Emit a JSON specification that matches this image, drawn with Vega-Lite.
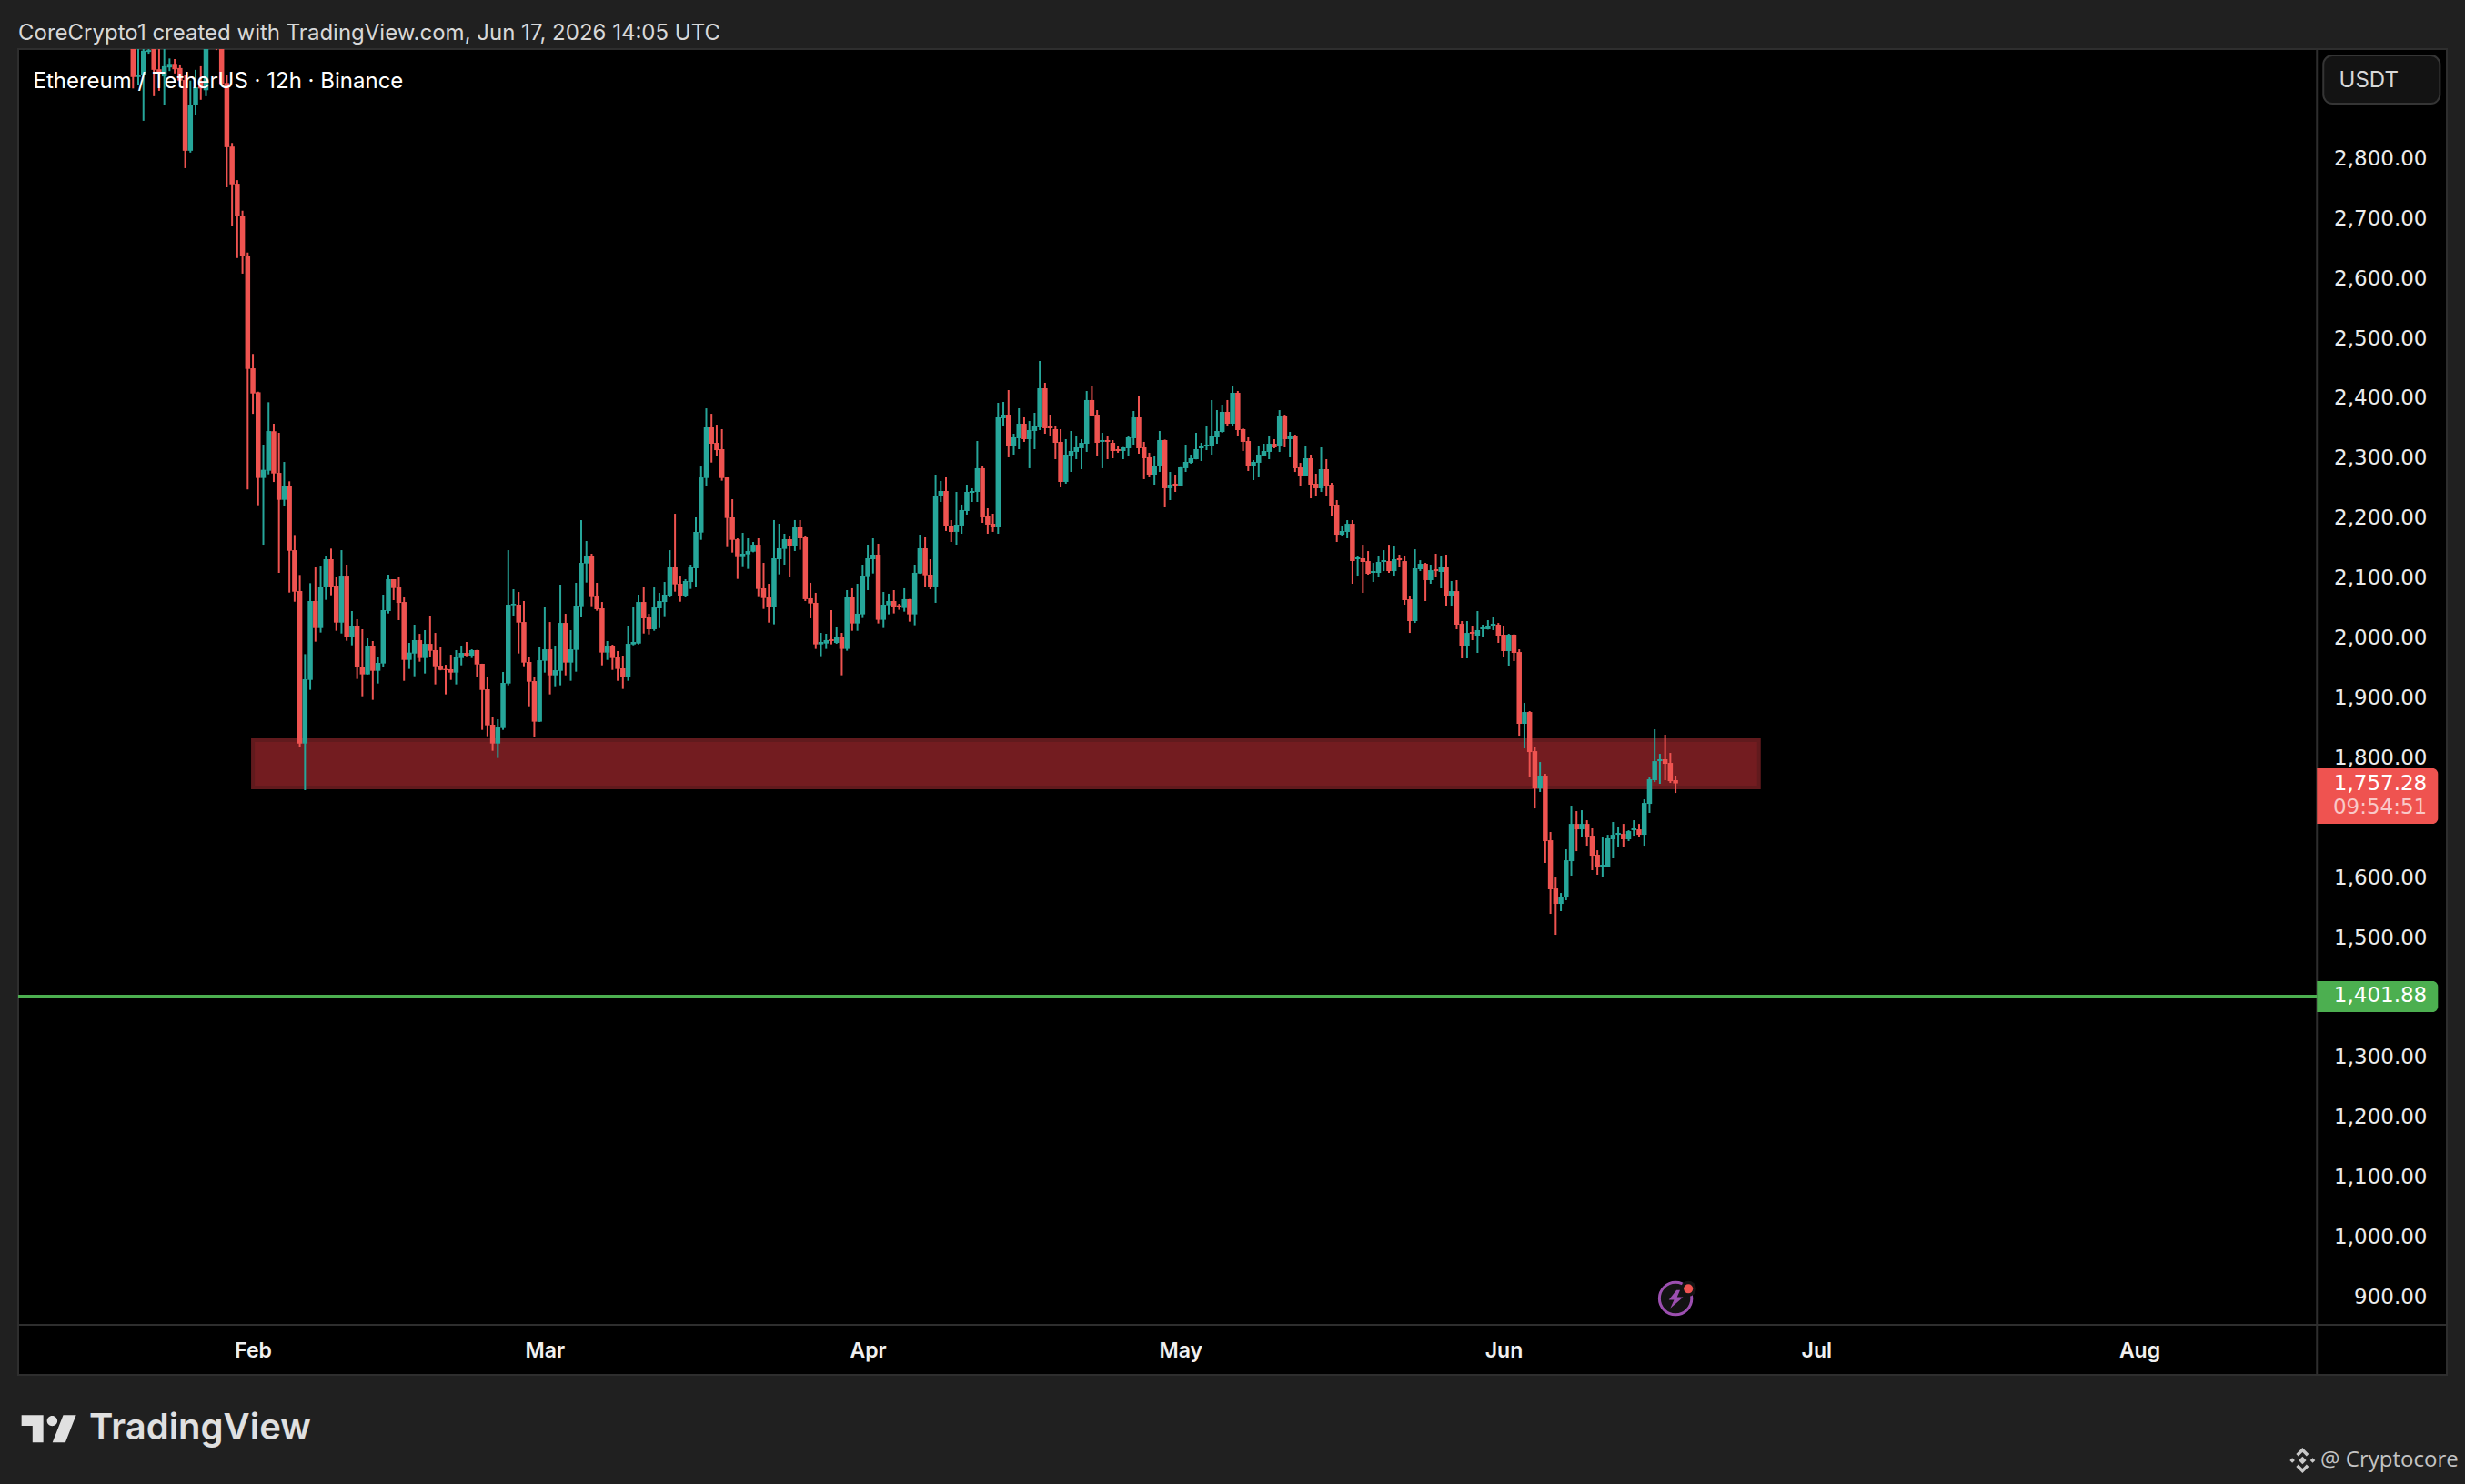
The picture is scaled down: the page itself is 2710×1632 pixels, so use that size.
{"$schema":"https://vega.github.io/schema/vega-lite/v6.json","background":"#202020","autosize":{"type":"none"},"padding":{"left":20,"top":54,"right":20,"bottom":120},"width":2670,"height":1458,"view":{"fill":"#000000","stroke":"#2e2e2e","strokeWidth":2},
"title":{"text":"CoreCrypto1 created with TradingView.com, Jun 17, 2026 14:05 UTC","anchor":"start","frame":"group","offset":4,"font":"Inter","fontSize":24,"fontWeight":400,"color":"#d8d8d8"},
"encoding":{"x":{"field":"t","type":"temporal","title":null,"scale":{"padding":0,"domain":[{"year":2026,"month":"jan","date":9,"hours":11,"minutes":30},{"year":2026,"month":"aug","date":30,"hours":12}]},"axis":{"tickCount":"month","format":"%b","orient":"bottom","offset":-27,"labelBaseline":"middle","labelPadding":0,"ticks":false,"domain":false,"grid":false,"labelFont":"Inter","labelFontSize":23,"labelFontWeight":600,"labelColor":"#f0f0f0","labelFlush":false,"labelOverlap":false}},
"y":{"field":"p","type":"quantitative","title":null,"scale":{"domain":[770.2,2982.7],"nice":false,"zero":false},"axis":{"orient":"right","offset":-22,"values":[900,1000,1100,1200,1300,1500,1600,1800,1900,2000,2100,2200,2300,2400,2500,2600,2700,2800],"format":",.2f","labelAlign":"right","labelPadding":0,"ticks":false,"domain":false,"grid":false,"labelFont":"DejaVu Sans","labelFontSize":23,"labelColor":"#ececec","labelOverlap":false,"labelFlush":false}}},
"layer":[
{"data":{"values":[{"t":"2026-08-18T01:00","p":770.2,"p2":2982.7}],"format":{"parse":{"t":"date"}}},"mark":{"type":"rule","color":"#2e2e2e","strokeWidth":2},"encoding":{"y2":{"field":"p2"}}},
{"data":{"values":[{"t":"2026-01-09T11:30","t2":"2026-08-30T12:00","p":853.6}],"format":{"parse":{"t":"date","t2":"date"}}},"mark":{"type":"rule","color":"#2e2e2e","strokeWidth":2},"encoding":{"x2":{"field":"t2"}}},
{"data":{"values":[{"t":"2026-02-01T00:00","t2":"2026-06-25T12:00","p":1829.5,"p2":1750.6}],"format":{"parse":{"t":"date","t2":"date"}}},"mark":{"type":"rect","fill":"#731c20","stroke":"#611a1d","strokeWidth":4},"encoding":{"x2":{"field":"t2"},"y2":{"field":"p2"}}},
{"data":{"values":[{"t":"2026-01-09T11:30","t2":"2026-08-18T01:00","p":1401.88}],"format":{"parse":{"t":"date","t2":"date"}}},"mark":{"type":"rule","color":"#4caf50","strokeWidth":3.5},"encoding":{"x2":{"field":"t2"}}},
{"data":{"name":"candles"},"mark":{"type":"rule","clip":true,"strokeWidth":2},"encoding":{"y":{"field":"l","type":"quantitative","title":null},"y2":{"field":"h"},"color":{"condition":{"test":"datum.c>=datum.o","value":"#26a69a"},"value":"#ef5350"}}},
{"data":{"name":"candles"},"mark":{"type":"bar","clip":true,"size":5.5},"encoding":{"y":{"field":"o","type":"quantitative","title":null},"y2":{"field":"c"},"color":{"condition":{"test":"datum.c>=datum.o","value":"#26a69a"},"value":"#ef5350"}}},
{"data":{"values":[{"t":"2026-08-18T01:00","t2":"2026-08-29T15:40","p":1782.3,"p2":1689.8}],"format":{"parse":{"t":"date","t2":"date"}}},"mark":{"type":"rect","fill":"#ef5350","cornerRadiusTopRight":6,"cornerRadiusBottomRight":6},"encoding":{"x2":{"field":"t2"},"y2":{"field":"p2"}}},
{"data":{"values":[{"t":"2026-08-18T01:00","t2":"2026-08-29T15:40","p":1427.2,"p2":1375.5}],"format":{"parse":{"t":"date","t2":"date"}}},"mark":{"type":"rect","fill":"#4caf50","cornerRadiusTopRight":6,"cornerRadiusBottomRight":6},"encoding":{"x2":{"field":"t2"},"y2":{"field":"p2"}}},
{"data":{"values":[{"t":"2026-08-18T15:40","t2":"2026-08-29T20:00","p":2972,"p2":2891.6}],"format":{"parse":{"t":"date","t2":"date"}}},"mark":{"type":"rect","fill":"#131313","stroke":"#353535","strokeWidth":2,"cornerRadius":10},"encoding":{"x2":{"field":"t2"},"y2":{"field":"p2"}}},
{"data":{"values":[{"t":"2026-08-28T14:24","p":1757,"label":"1,757.28"},{"t":"2026-08-28T14:24","p":1403,"label":"1,401.88"}],"format":{"parse":{"t":"date"}}},"mark":{"type":"text","align":"right","baseline":"middle","font":"DejaVu Sans","fontSize":23,"color":"#ffffff"},"encoding":{"text":{"field":"label"}}},
{"data":{"values":[{"t":"2026-08-28T14:24","p":1716.5,"label":"09:54:51"}],"format":{"parse":{"t":"date"}}},"mark":{"type":"text","align":"right","baseline":"middle","font":"DejaVu Sans","fontSize":23,"color":"#f9c9c8"},"encoding":{"text":{"field":"label"}}},
{"data":{"values":[{"t":"2026-08-20T04:00","p":2929,"label":"USDT"}],"format":{"parse":{"t":"date"}}},"mark":{"type":"text","align":"left","baseline":"middle","font":"Inter","fontSize":24,"color":"#d8d8d8"},"encoding":{"text":{"field":"label"}}},
{"data":{"values":[{"t":"2026-01-10T22:00","p":2928,"label":"Ethereum / TetherUS · 12h · Binance"}],"format":{"parse":{"t":"date"}}},"mark":{"type":"text","align":"left","baseline":"middle","font":"Inter","fontSize":24,"color":"#ffffff"},"encoding":{"text":{"field":"label"}}},
{"data":{"values":[{"t":"2026-06-17T12:00","p":897.6}],"format":{"parse":{"t":"date"}}},"mark":{"type":"point","shape":"circle","size":1257,"filled":false,"fill":"#131313","fillOpacity":1,"stroke":"#9c4fb0","strokeWidth":3,"opacity":1}},
{"data":{"values":[{"t":"2026-06-17T12:00","p":897.6}],"format":{"parse":{"t":"date"}}},"mark":{"type":"point","shape":"M0.07,-0.62 L-0.49,0.09 L-0.11,0.09 L-0.38,0.71 L0.56,-0.11 L0.11,-0.11 L0.33,-0.62 Z","size":900,"filled":true,"color":"#9c4fb0","opacity":1}},
{"data":{"values":[{"t":"2026-06-18T17:30","p":913.8}],"format":{"parse":{"t":"date"}}},"mark":{"type":"point","shape":"circle","size":290,"filled":true,"color":"#131313","opacity":1}},
{"data":{"values":[{"t":"2026-06-18T17:30","p":913.8}],"format":{"parse":{"t":"date"}}},"mark":{"type":"point","shape":"circle","size":100,"filled":true,"color":"#ef5350","opacity":1}},
{"data":{"values":[{"t":"2026-01-12T10:00","p":680.6}],"format":{"parse":{"t":"date"}}},"mark":{"type":"point","shape":"M-1,-0.494 L-0.2,-0.494 L-0.2,0.506 L-0.596,0.506 L-0.596,-0.1 L-1,-0.1 Z M-0.067,-0.281 a0.191,0.191 0 1,0 0.382,0 a0.191,0.191 0 1,0 -0.382,0 Z M0.528,-0.494 L1,-0.494 L0.607,0.506 L0.135,0.506 Z","size":3600,"filled":true,"color":"#e0e0e0","opacity":1}},
{"data":{"values":[{"t":"2026-01-16T07:00","p":680.6,"label":"TradingView"}],"format":{"parse":{"t":"date"}}},"mark":{"type":"text","align":"left","baseline":"middle","font":"Inter","fontSize":40,"fontWeight":600,"color":"#e0e0e0"},"encoding":{"text":{"field":"label"}}},
{"data":{"values":[{"t":"2026-08-16T15:40","p":627.5}],"format":{"parse":{"t":"date"}}},"mark":{"type":"point","shape":"M0,-0.3 L0.3,0 L0,0.3 L-0.3,0 Z M-0.8,-0.2 L-0.6,0 L-0.8,0.2 L-1,0 Z M0.8,-0.2 L1,0 L0.8,0.2 L0.6,0 Z M0,-1 L0.5,-0.5 L0.32,-0.32 L0,-0.64 L-0.32,-0.32 L-0.5,-0.5 Z M0,1 L0.5,0.5 L0.32,0.32 L0,0.64 L-0.32,0.32 L-0.5,0.5 Z","size":784,"filled":true,"color":"#c8c8c8","opacity":1}},
{"data":{"values":[{"t":"2026-08-18T09:00","p":627.5,"label":"@ Cryptocore"}],"format":{"parse":{"t":"date"}}},"mark":{"type":"text","align":"left","baseline":"middle","font":"Open Sans","fontSize":24,"color":"#c4c4c4"},"encoding":{"text":{"field":"label"}}}
],
"datasets":{"candles":[
{"t":"2026-01-20T12:00","o":2995,"h":3010,"l":2917,"c":2936},
{"t":"2026-01-21T00:00","o":2936,"h":3000,"l":2922,"c":2940},
{"t":"2026-01-21T12:00","o":2939,"h":2995,"l":2863,"c":2980},
{"t":"2026-01-22T00:00","o":2978,"h":2990,"l":2975,"c":2981},
{"t":"2026-01-22T12:00","o":2990,"h":3000,"l":2904,"c":2948},
{"t":"2026-01-23T00:00","o":2949,"h":3000,"l":2913,"c":2943},
{"t":"2026-01-23T12:00","o":2937,"h":2990,"l":2890,"c":2954},
{"t":"2026-01-24T00:00","o":2952,"h":2967,"l":2946,"c":2958},
{"t":"2026-01-24T12:00","o":2958,"h":2966,"l":2942,"c":2949},
{"t":"2026-01-25T00:00","o":2951,"h":2957,"l":2928,"c":2930},
{"t":"2026-01-25T12:00","o":2931,"h":2940,"l":2784,"c":2813},
{"t":"2026-01-26T00:00","o":2813,"h":2930,"l":2810,"c":2890},
{"t":"2026-01-26T12:00","o":2889,"h":2948,"l":2873,"c":2919},
{"t":"2026-01-27T00:00","o":2929,"h":2954,"l":2898,"c":2917},
{"t":"2026-01-27T12:00","o":2914,"h":3000,"l":2904,"c":2990},
{"t":"2026-01-28T00:00","o":3010,"h":3040,"l":2990,"c":3000},
{"t":"2026-01-28T12:00","o":3000,"h":3030,"l":2981,"c":2995},
{"t":"2026-01-29T00:00","o":3000,"h":3010,"l":2922,"c":2924.5},
{"t":"2026-01-29T12:00","o":2926,"h":2940,"l":2752,"c":2819},
{"t":"2026-01-30T00:00","o":2820,"h":2826,"l":2687,"c":2757},
{"t":"2026-01-30T12:00","o":2758,"h":2764,"l":2634,"c":2703.5},
{"t":"2026-01-31T00:00","o":2705,"h":2713,"l":2608,"c":2637},
{"t":"2026-01-31T12:00","o":2638,"h":2643,"l":2248,"c":2449},
{"t":"2026-02-01T00:00","o":2450,"h":2474,"l":2374,"c":2408},
{"t":"2026-02-01T12:00","o":2410,"h":2411,"l":2221.4,"c":2267},
{"t":"2026-02-02T00:00","o":2267,"h":2322.6,"l":2155.6,"c":2280.6},
{"t":"2026-02-02T12:00","o":2279,"h":2393.4,"l":2273,"c":2345.3},
{"t":"2026-02-03T00:00","o":2345,"h":2357.5,"l":2260.3,"c":2274.5},
{"t":"2026-02-03T12:00","o":2275.5,"h":2342.3,"l":2108.6,"c":2230.5},
{"t":"2026-02-04T00:00","o":2230.5,"h":2293.7,"l":2219.9,"c":2252.8},
{"t":"2026-02-04T12:00","o":2252.8,"h":2261.4,"l":2075.7,"c":2145.5},
{"t":"2026-02-05T00:00","o":2146.5,"h":2171.8,"l":2060.5,"c":2077.2},
{"t":"2026-02-05T12:00","o":2078.2,"h":2105.1,"l":1817.8,"c":1823.8},
{"t":"2026-02-06T00:00","o":1823.8,"h":1973,"l":1746,"c":1931.1},
{"t":"2026-02-06T12:00","o":1930,"h":2091.4,"l":1913.4,"c":2061.6},
{"t":"2026-02-07T00:00","o":2061.6,"h":2117.7,"l":1993.8,"c":2016.5},
{"t":"2026-02-07T12:00","o":2016.5,"h":2120.7,"l":2009,"c":2085.8},
{"t":"2026-02-08T00:00","o":2084.8,"h":2135.9,"l":2063.6,"c":2131.4},
{"t":"2026-02-08T12:00","o":2131.4,"h":2149.1,"l":2071.2,"c":2085.8},
{"t":"2026-02-09T00:00","o":2087.4,"h":2101,"l":2012,"c":2025.6},
{"t":"2026-02-09T12:00","o":2025.6,"h":2146.5,"l":2007.4,"c":2104},
{"t":"2026-02-10T00:00","o":2104,"h":2122.3,"l":1995.3,"c":2001.4},
{"t":"2026-02-10T12:00","o":2001.4,"h":2044.9,"l":1987.7,"c":2020.6},
{"t":"2026-02-11T00:00","o":2020.6,"h":2031.2,"l":1931.6,"c":1951.3},
{"t":"2026-02-11T12:00","o":1952.3,"h":2014.5,"l":1902.7,"c":1939.2},
{"t":"2026-02-12T00:00","o":1939.2,"h":1999.4,"l":1939,"c":1987.2},
{"t":"2026-02-12T12:00","o":1987.2,"h":1994.8,"l":1896.7,"c":1945.2},
{"t":"2026-02-13T00:00","o":1945.2,"h":1967.5,"l":1924,"c":1958.4},
{"t":"2026-02-13T12:00","o":1957.4,"h":2072.2,"l":1951.3,"c":2046.4},
{"t":"2026-02-14T00:00","o":2044.9,"h":2105.6,"l":2040.8,"c":2098},
{"t":"2026-02-14T12:00","o":2098,"h":2098,"l":2063.1,"c":2083.3},
{"t":"2026-02-15T00:00","o":2084.3,"h":2101,"l":2029.7,"c":2058.5},
{"t":"2026-02-15T12:00","o":2060,"h":2067.6,"l":1928.5,"c":1963.4},
{"t":"2026-02-16T00:00","o":1963.4,"h":1991.8,"l":1948.3,"c":1975.6},
{"t":"2026-02-16T12:00","o":1974,"h":2022.1,"l":1936.1,"c":1996.3},
{"t":"2026-02-17T00:00","o":1996.3,"h":2006.9,"l":1960.4,"c":1966.5},
{"t":"2026-02-17T12:00","o":1966.5,"h":2013,"l":1940.7,"c":1990.2},
{"t":"2026-02-18T00:00","o":1990.2,"h":2037.3,"l":1968,"c":1978.6},
{"t":"2026-02-18T12:00","o":1979.6,"h":2008.4,"l":1922.5,"c":1952.8},
{"t":"2026-02-19T00:00","o":1953.8,"h":1985.7,"l":1946,"c":1946.7},
{"t":"2026-02-19T12:00","o":1948.3,"h":1955.3,"l":1905.8,"c":1946.3},
{"t":"2026-02-20T00:00","o":1947.8,"h":1972,"l":1930,"c":1942.2},
{"t":"2026-02-20T12:00","o":1942.2,"h":1979.6,"l":1922.5,"c":1967.5},
{"t":"2026-02-21T00:00","o":1966.5,"h":1987.2,"l":1954.3,"c":1975.1},
{"t":"2026-02-21T12:00","o":1975.1,"h":1993.3,"l":1969.5,"c":1970.5},
{"t":"2026-02-22T00:00","o":1970.5,"h":1981.1,"l":1966.5,"c":1979.6},
{"t":"2026-02-22T12:00","o":1979.6,"h":1980,"l":1934.6,"c":1955.8},
{"t":"2026-02-23T00:00","o":1956.8,"h":1957,"l":1846.6,"c":1913.4},
{"t":"2026-02-23T12:00","o":1914.4,"h":1934.1,"l":1836,"c":1854.2},
{"t":"2026-02-24T00:00","o":1855.2,"h":1868.9,"l":1811.7,"c":1823.8},
{"t":"2026-02-24T12:00","o":1823.8,"h":1864.3,"l":1799.6,"c":1850.6},
{"t":"2026-02-25T00:00","o":1849.6,"h":1943.2,"l":1846.6,"c":1925},
{"t":"2026-02-25T12:00","o":1924,"h":2146.5,"l":1921,"c":2055.5},
{"t":"2026-02-26T00:00","o":2054.5,"h":2081.3,"l":2037.3,"c":2057},
{"t":"2026-02-26T12:00","o":2055.5,"h":2076.7,"l":1974.1,"c":2025.6},
{"t":"2026-02-27T00:00","o":2026.6,"h":2061.6,"l":1952.8,"c":1958.9},
{"t":"2026-02-27T12:00","o":1959.9,"h":1967.5,"l":1886,"c":1927},
{"t":"2026-02-28T00:00","o":1928,"h":1935.6,"l":1834.5,"c":1860.3},
{"t":"2026-02-28T12:00","o":1860.3,"h":1984.2,"l":1860,"c":1962.9},
{"t":"2026-03-01T00:00","o":1961.9,"h":2052.5,"l":1942.2,"c":1981.1},
{"t":"2026-03-01T12:00","o":1981.1,"h":2026.6,"l":1905.8,"c":1937.6},
{"t":"2026-03-02T00:00","o":1937.6,"h":1987.2,"l":1919.4,"c":1946.2},
{"t":"2026-03-02T12:00","o":1945.2,"h":2088.9,"l":1921,"c":2025.1},
{"t":"2026-03-03T00:00","o":2025.1,"h":2040.3,"l":1937.6,"c":1958.9},
{"t":"2026-03-03T12:00","o":1958.9,"h":2013,"l":1928.5,"c":1981.1},
{"t":"2026-03-04T00:00","o":1980.1,"h":2091.9,"l":1943.7,"c":2054},
{"t":"2026-03-04T12:00","o":2053,"h":2196.6,"l":2034.8,"c":2125.3},
{"t":"2026-03-05T00:00","o":2124.3,"h":2161.7,"l":2092.4,"c":2135.9},
{"t":"2026-03-05T12:00","o":2135.9,"h":2140.5,"l":2053,"c":2069.7},
{"t":"2026-03-06T00:00","o":2070.7,"h":2091.9,"l":2045.4,"c":2047.9},
{"t":"2026-03-06T12:00","o":2049.4,"h":2060,"l":1954.3,"c":1975.6},
{"t":"2026-03-07T00:00","o":1975.6,"h":1994.8,"l":1963.4,"c":1987.2},
{"t":"2026-03-07T12:00","o":1987.2,"h":1988.7,"l":1946.7,"c":1966.5},
{"t":"2026-03-08T00:00","o":1967.5,"h":1978.1,"l":1928.5,"c":1948.3},
{"t":"2026-03-08T12:00","o":1949.3,"h":1970.5,"l":1914.9,"c":1934.6},
{"t":"2026-03-09T00:00","o":1934.6,"h":2020.6,"l":1928.5,"c":1990.2},
{"t":"2026-03-09T12:00","o":1989.2,"h":2052.5,"l":1987.7,"c":1993.3},
{"t":"2026-03-10T00:00","o":1990.7,"h":2072.2,"l":1989.2,"c":2060},
{"t":"2026-03-10T12:00","o":2060,"h":2085.8,"l":2007.4,"c":2032.7},
{"t":"2026-03-11T00:00","o":2034.2,"h":2040.3,"l":2005.9,"c":2014.5},
{"t":"2026-03-11T12:00","o":2014.5,"h":2084.3,"l":2012,"c":2050.9},
{"t":"2026-03-12T00:00","o":2049.4,"h":2075.2,"l":2016.5,"c":2061.6},
{"t":"2026-03-12T12:00","o":2060,"h":2093.4,"l":2036.3,"c":2072.2},
{"t":"2026-03-13T00:00","o":2070.7,"h":2146.5,"l":2069.2,"c":2119.2},
{"t":"2026-03-13T12:00","o":2119.2,"h":2207.2,"l":2077.2,"c":2089.4},
{"t":"2026-03-14T00:00","o":2090.4,"h":2104,"l":2060.5,"c":2070.7},
{"t":"2026-03-14T12:00","o":2070.7,"h":2098,"l":2068.2,"c":2095},
{"t":"2026-03-15T00:00","o":2093.4,"h":2122.3,"l":2081.8,"c":2117.7},
{"t":"2026-03-15T12:00","o":2116.2,"h":2201.2,"l":2084.8,"c":2176.9},
{"t":"2026-03-16T00:00","o":2175.9,"h":2286.1,"l":2163.7,"c":2267.9},
{"t":"2026-03-16T12:00","o":2266.9,"h":2383.2,"l":2253.3,"c":2351.4},
{"t":"2026-03-17T00:00","o":2351.4,"h":2374.1,"l":2292.7,"c":2324.1},
{"t":"2026-03-17T12:00","o":2325.6,"h":2355.9,"l":2303.3,"c":2313.4},
{"t":"2026-03-18T00:00","o":2315,"h":2348.4,"l":2262.4,"c":2266.9},
{"t":"2026-03-18T12:00","o":2267.9,"h":2268,"l":2151.6,"c":2200.2},
{"t":"2026-03-19T00:00","o":2201.2,"h":2231.5,"l":2142.5,"c":2163.7},
{"t":"2026-03-19T12:00","o":2164.7,"h":2166.3,"l":2098.5,"c":2134.9},
{"t":"2026-03-20T00:00","o":2134.9,"h":2175.4,"l":2119.7,"c":2140.5},
{"t":"2026-03-20T12:00","o":2139.5,"h":2166.3,"l":2115.2,"c":2145},
{"t":"2026-03-21T00:00","o":2144,"h":2160.2,"l":2143,"c":2155.6},
{"t":"2026-03-21T12:00","o":2155.6,"h":2166.3,"l":2069.7,"c":2081.8},
{"t":"2026-03-22T00:00","o":2082.8,"h":2125.3,"l":2048.4,"c":2066.6},
{"t":"2026-03-22T12:00","o":2067.6,"h":2090.4,"l":2025.6,"c":2051.4},
{"t":"2026-03-23T00:00","o":2051,"h":2196.7,"l":2022.7,"c":2132.9},
{"t":"2026-03-23T12:00","o":2131.4,"h":2190.6,"l":2106.1,"c":2149.6},
{"t":"2026-03-24T00:00","o":2148.6,"h":2173.9,"l":2122.3,"c":2164.8},
{"t":"2026-03-24T12:00","o":2164.8,"h":2169.4,"l":2101.1,"c":2153.2},
{"t":"2026-03-25T00:00","o":2153.2,"h":2196.7,"l":2145.1,"c":2184.5},
{"t":"2026-03-25T12:00","o":2184.5,"h":2196.7,"l":2147.1,"c":2166.3},
{"t":"2026-03-26T00:00","o":2167.8,"h":2170.9,"l":2061.6,"c":2064.7},
{"t":"2026-03-26T12:00","o":2066.2,"h":2092,"l":2032.8,"c":2057.6},
{"t":"2026-03-27T00:00","o":2058.6,"h":2075.3,"l":1981.7,"c":1989.3},
{"t":"2026-03-27T12:00","o":1989.3,"h":2008.5,"l":1969.6,"c":1993.3},
{"t":"2026-03-28T00:00","o":1990.8,"h":2007,"l":1981.7,"c":1996.4},
{"t":"2026-03-28T12:00","o":1997.9,"h":2046.4,"l":1989.3,"c":1994.8},
{"t":"2026-03-29T00:00","o":1991.8,"h":2017.6,"l":1990.3,"c":2002.4},
{"t":"2026-03-29T12:00","o":2002.4,"h":2008.5,"l":1937.7,"c":1981.7},
{"t":"2026-03-30T00:00","o":1981.7,"h":2079.8,"l":1978.7,"c":2069.2},
{"t":"2026-03-30T12:00","o":2069.2,"h":2082.9,"l":2012,"c":2024.2},
{"t":"2026-03-31T00:00","o":2024.2,"h":2090.4,"l":2012,"c":2040.4},
{"t":"2026-03-31T12:00","o":2039.4,"h":2122.3,"l":2033.3,"c":2104.1},
{"t":"2026-04-01T00:00","o":2103.1,"h":2155.7,"l":2079.8,"c":2132.9},
{"t":"2026-04-01T12:00","o":2131.4,"h":2166.3,"l":2107.6,"c":2139},
{"t":"2026-04-02T00:00","o":2139,"h":2157.2,"l":2024.2,"c":2030.3},
{"t":"2026-04-02T12:00","o":2030.3,"h":2076.8,"l":2016.6,"c":2055.5},
{"t":"2026-04-03T00:00","o":2054.5,"h":2073.8,"l":2039.4,"c":2061.6},
{"t":"2026-04-03T12:00","o":2061.6,"h":2079.8,"l":2040.9,"c":2051.5},
{"t":"2026-04-04T00:00","o":2054.5,"h":2057,"l":2047,"c":2051.5},
{"t":"2026-04-04T12:00","o":2050,"h":2082.9,"l":2043.9,"c":2064.7},
{"t":"2026-04-05T00:00","o":2064.7,"h":2065,"l":2027.2,"c":2039.4},
{"t":"2026-04-05T12:00","o":2039.4,"h":2122.3,"l":2021.2,"c":2108.7},
{"t":"2026-04-06T00:00","o":2107.6,"h":2172.4,"l":2107,"c":2149.6},
{"t":"2026-04-06T12:00","o":2149.6,"h":2167.8,"l":2085.9,"c":2104.6},
{"t":"2026-04-07T00:00","o":2105.6,"h":2131.4,"l":2081.3,"c":2085.9},
{"t":"2026-04-07T12:00","o":2085.9,"h":2272.5,"l":2058.6,"c":2237.6},
{"t":"2026-04-08T00:00","o":2236.6,"h":2261.9,"l":2227,"c":2245.2},
{"t":"2026-04-08T12:00","o":2245.2,"h":2268,"l":2178.5,"c":2186},
{"t":"2026-04-09T00:00","o":2187.6,"h":2196.7,"l":2160.2,"c":2177},
{"t":"2026-04-09T12:00","o":2177,"h":2243.7,"l":2155.7,"c":2189.1},
{"t":"2026-04-10T00:00","o":2187.6,"h":2222.5,"l":2173.9,"c":2213.4},
{"t":"2026-04-10T12:00","o":2211.8,"h":2255.8,"l":2205.8,"c":2243.7},
{"t":"2026-04-11T00:00","o":2242.2,"h":2249.8,"l":2227,"c":2245.2},
{"t":"2026-04-11T12:00","o":2243.7,"h":2328.7,"l":2227,"c":2283.2},
{"t":"2026-04-12T00:00","o":2283.2,"h":2286.2,"l":2192.1,"c":2201.2},
{"t":"2026-04-12T12:00","o":2202.7,"h":2216.4,"l":2173.9,"c":2189.1},
{"t":"2026-04-13T00:00","o":2190.6,"h":2207.3,"l":2177,"c":2184.5},
{"t":"2026-04-13T12:00","o":2184.5,"h":2392.4,"l":2173.9,"c":2368.1},
{"t":"2026-04-14T00:00","o":2366.6,"h":2393.9,"l":2353,"c":2372.7},
{"t":"2026-04-14T12:00","o":2372.7,"h":2413.6,"l":2301.4,"c":2319.6},
{"t":"2026-04-15T00:00","o":2319.6,"h":2340.8,"l":2305.9,"c":2334.7},
{"t":"2026-04-15T12:00","o":2333.2,"h":2383.3,"l":2315,"c":2357.5},
{"t":"2026-04-16T00:00","o":2357.5,"h":2368.1,"l":2327.2,"c":2331.7},
{"t":"2026-04-16T12:00","o":2331.7,"h":2362,"l":2283.2,"c":2346.9},
{"t":"2026-04-17T00:00","o":2345.4,"h":2375.7,"l":2315,"c":2353},
{"t":"2026-04-17T12:00","o":2351.4,"h":2462.2,"l":2346.9,"c":2416.7},
{"t":"2026-04-18T00:00","o":2416.7,"h":2425.8,"l":2340.8,"c":2349.9},
{"t":"2026-04-18T12:00","o":2353,"h":2372.7,"l":2337.8,"c":2349.9},
{"t":"2026-04-19T00:00","o":2348.4,"h":2353,"l":2298.3,"c":2325.6},
{"t":"2026-04-19T12:00","o":2327.2,"h":2348.4,"l":2251.3,"c":2260.4},
{"t":"2026-04-20T00:00","o":2260.4,"h":2331.7,"l":2257.4,"c":2305.9},
{"t":"2026-04-20T12:00","o":2304.4,"h":2345.4,"l":2277.1,"c":2312},
{"t":"2026-04-21T00:00","o":2310.5,"h":2336.3,"l":2298.3,"c":2318},
{"t":"2026-04-21T12:00","o":2316.5,"h":2331.7,"l":2281.6,"c":2325.6},
{"t":"2026-04-22T00:00","o":2324.1,"h":2412.1,"l":2310.5,"c":2397},
{"t":"2026-04-22T12:00","o":2397,"h":2421.2,"l":2371,"c":2371.2},
{"t":"2026-04-23T00:00","o":2372.7,"h":2380.3,"l":2304.4,"c":2325.6},
{"t":"2026-04-23T12:00","o":2327.2,"h":2342.3,"l":2283.2,"c":2330.2},
{"t":"2026-04-24T00:00","o":2330.2,"h":2336.3,"l":2298.3,"c":2327.2},
{"t":"2026-04-24T12:00","o":2325.6,"h":2330.2,"l":2299.8,"c":2312},
{"t":"2026-04-25T00:00","o":2315,"h":2321.1,"l":2309,"c":2312},
{"t":"2026-04-25T12:00","o":2312,"h":2318.5,"l":2298.3,"c":2318},
{"t":"2026-04-26T00:00","o":2316.5,"h":2336.3,"l":2304.4,"c":2334.7},
{"t":"2026-04-26T12:00","o":2333.2,"h":2378.7,"l":2322.6,"c":2368.1},
{"t":"2026-04-27T00:00","o":2368.1,"h":2403,"l":2307.4,"c":2316.5},
{"t":"2026-04-27T12:00","o":2318,"h":2327.2,"l":2265,"c":2299.8},
{"t":"2026-04-28T00:00","o":2301.4,"h":2309,"l":2268,"c":2272.5},
{"t":"2026-04-28T12:00","o":2272.5,"h":2304.4,"l":2255.8,"c":2287.7},
{"t":"2026-04-29T00:00","o":2286.2,"h":2345.4,"l":2277.1,"c":2330.2},
{"t":"2026-04-29T12:00","o":2330.2,"h":2331,"l":2217.9,"c":2249.8},
{"t":"2026-04-30T00:00","o":2249.8,"h":2277.1,"l":2230,"c":2255.8},
{"t":"2026-04-30T12:00","o":2257.4,"h":2272.5,"l":2243.7,"c":2254.3},
{"t":"2026-05-01T00:00","o":2254.3,"h":2285,"l":2254,"c":2284.7},
{"t":"2026-05-01T12:00","o":2283.2,"h":2322.6,"l":2277.1,"c":2293.8},
{"t":"2026-05-02T00:00","o":2292.3,"h":2305.9,"l":2290.7,"c":2299.8},
{"t":"2026-05-02T12:00","o":2298.3,"h":2342.3,"l":2298,"c":2315},
{"t":"2026-05-03T00:00","o":2316.5,"h":2325.6,"l":2295.3,"c":2319.6},
{"t":"2026-05-03T12:00","o":2319.6,"h":2354.5,"l":2313.5,"c":2322.6},
{"t":"2026-05-04T00:00","o":2319.6,"h":2397,"l":2305.9,"c":2336.3},
{"t":"2026-05-04T12:00","o":2334.7,"h":2380.3,"l":2324.1,"c":2345.4},
{"t":"2026-05-05T00:00","o":2343.8,"h":2389.4,"l":2342.3,"c":2377.2},
{"t":"2026-05-05T12:00","o":2377.2,"h":2397,"l":2353,"c":2357.5},
{"t":"2026-05-06T00:00","o":2357.5,"h":2421.2,"l":2353,"c":2409.1},
{"t":"2026-05-06T12:00","o":2409.1,"h":2412.1,"l":2336.3,"c":2346.9},
{"t":"2026-05-07T00:00","o":2348.4,"h":2349.9,"l":2312,"c":2327.2},
{"t":"2026-05-07T12:00","o":2328.7,"h":2334.7,"l":2278.6,"c":2287.7},
{"t":"2026-05-08T00:00","o":2287.7,"h":2296.8,"l":2263.4,"c":2293.8},
{"t":"2026-05-08T12:00","o":2292.3,"h":2319.6,"l":2268,"c":2305.9},
{"t":"2026-05-09T00:00","o":2304.4,"h":2324.1,"l":2302.9,"c":2312},
{"t":"2026-05-09T12:00","o":2310.5,"h":2336.3,"l":2298.3,"c":2324.1},
{"t":"2026-05-10T00:00","o":2324.1,"h":2331.7,"l":2316.5,"c":2318},
{"t":"2026-05-10T12:00","o":2319.5,"h":2380.2,"l":2310.4,"c":2369.6},
{"t":"2026-05-11T00:00","o":2369.6,"h":2372.6,"l":2318,"c":2331.7},
{"t":"2026-05-11T12:00","o":2331.7,"h":2343.8,"l":2301.3,"c":2337.7},
{"t":"2026-05-12T00:00","o":2337.7,"h":2339.2,"l":2277,"c":2283.1},
{"t":"2026-05-12T12:00","o":2284.6,"h":2292.2,"l":2254.3,"c":2271},
{"t":"2026-05-13T00:00","o":2271,"h":2321,"l":2270.5,"c":2299.8},
{"t":"2026-05-13T12:00","o":2299.8,"h":2305.9,"l":2233,"c":2255.8},
{"t":"2026-05-14T00:00","o":2257.3,"h":2274,"l":2236.1,"c":2249.7},
{"t":"2026-05-14T12:00","o":2249.7,"h":2318,"l":2243.6,"c":2281.6},
{"t":"2026-05-15T00:00","o":2281.6,"h":2298.3,"l":2236.1,"c":2254.3},
{"t":"2026-05-15T12:00","o":2255.8,"h":2258.8,"l":2202.7,"c":2220.9},
{"t":"2026-05-16T00:00","o":2222.4,"h":2230,"l":2160.2,"c":2172.3},
{"t":"2026-05-16T12:00","o":2172.3,"h":2186,"l":2169.3,"c":2178.4},
{"t":"2026-05-17T00:00","o":2176.9,"h":2196.6,"l":2166.3,"c":2190.5},
{"t":"2026-05-17T12:00","o":2190.5,"h":2196.6,"l":2090.4,"c":2128.3},
{"t":"2026-05-18T00:00","o":2131.4,"h":2137.4,"l":2104,"c":2134.4},
{"t":"2026-05-18T12:00","o":2132.9,"h":2155.6,"l":2075.2,"c":2126.8},
{"t":"2026-05-19T00:00","o":2128.3,"h":2145,"l":2105.6,"c":2107.1},
{"t":"2026-05-19T12:00","o":2108.6,"h":2125.3,"l":2093.4,"c":2111.6},
{"t":"2026-05-20T00:00","o":2108.6,"h":2135.9,"l":2101,"c":2126.8},
{"t":"2026-05-20T12:00","o":2126.8,"h":2146.5,"l":2111.6,"c":2129.8},
{"t":"2026-05-21T00:00","o":2128.3,"h":2155.6,"l":2108.6,"c":2111.6},
{"t":"2026-05-21T12:00","o":2111.6,"h":2152.6,"l":2104,"c":2131.4},
{"t":"2026-05-22T00:00","o":2132.9,"h":2139,"l":2117.7,"c":2129.8},
{"t":"2026-05-22T12:00","o":2128.3,"h":2135.9,"l":2055.5,"c":2063.1},
{"t":"2026-05-23T00:00","o":2064.6,"h":2070.7,"l":2008.4,"c":2028.2},
{"t":"2026-05-23T12:00","o":2028.2,"h":2148,"l":2025.1,"c":2116.2},
{"t":"2026-05-24T00:00","o":2114.7,"h":2129.8,"l":2111.6,"c":2123.8},
{"t":"2026-05-24T12:00","o":2123.8,"h":2125.3,"l":2061.6,"c":2096.5},
{"t":"2026-05-25T00:00","o":2096.5,"h":2122.3,"l":2090.4,"c":2113.1},
{"t":"2026-05-25T12:00","o":2114.7,"h":2140.5,"l":2101,"c":2111.6},
{"t":"2026-05-26T00:00","o":2110.1,"h":2135.9,"l":2082.8,"c":2119.2},
{"t":"2026-05-26T12:00","o":2119.2,"h":2139,"l":2054,"c":2070.7},
{"t":"2026-05-27T00:00","o":2070.7,"h":2095,"l":2054,"c":2078.2},
{"t":"2026-05-27T12:00","o":2078.2,"h":2096.5,"l":2014.5,"c":2022.1},
{"t":"2026-05-28T00:00","o":2023.6,"h":2028.2,"l":1966,"c":1987.2},
{"t":"2026-05-28T12:00","o":1987.2,"h":2028.2,"l":1966,"c":2008.4},
{"t":"2026-05-29T00:00","o":2010,"h":2020.6,"l":1996.3,"c":2007},
{"t":"2026-05-29T12:00","o":2003.9,"h":2044.9,"l":1975.1,"c":2013},
{"t":"2026-05-30T00:00","o":2014.5,"h":2022.1,"l":2000.9,"c":2017.6},
{"t":"2026-05-30T12:00","o":2014.5,"h":2029.7,"l":2014,"c":2020.6},
{"t":"2026-05-31T00:00","o":2020.6,"h":2035.8,"l":2013,"c":2023.6},
{"t":"2026-05-31T12:00","o":2022.1,"h":2025.1,"l":1991.8,"c":2003.9},
{"t":"2026-06-01T00:00","o":2005.4,"h":2020.6,"l":1969,"c":1978.1},
{"t":"2026-06-01T12:00","o":1978.1,"h":2007,"l":1953.8,"c":2005.4},
{"t":"2026-06-02T00:00","o":2005.4,"h":2006,"l":1961.4,"c":1975.1},
{"t":"2026-06-02T12:00","o":1976.5,"h":1981.1,"l":1836.9,"c":1856.7},
{"t":"2026-06-03T00:00","o":1856.7,"h":1891.6,"l":1815.7,"c":1876.4},
{"t":"2026-06-03T12:00","o":1876.4,"h":1877.9,"l":1768.7,"c":1809.6},
{"t":"2026-06-04T00:00","o":1811.1,"h":1818.7,"l":1715.5,"c":1748.9},
{"t":"2026-06-04T12:00","o":1748.9,"h":1792.9,"l":1742.9,"c":1770.2},
{"t":"2026-06-05T00:00","o":1770.2,"h":1773.2,"l":1624.5,"c":1660.9},
{"t":"2026-06-05T12:00","o":1662.4,"h":1676.1,"l":1539.5,"c":1580.5},
{"t":"2026-06-06T00:00","o":1582,"h":1600.2,"l":1504.6,"c":1556.2},
{"t":"2026-06-06T12:00","o":1556.2,"h":1574.4,"l":1544.1,"c":1568.4},
{"t":"2026-06-07T00:00","o":1566.8,"h":1647.3,"l":1562.3,"c":1629},
{"t":"2026-06-07T12:00","o":1627.5,"h":1720.1,"l":1603.3,"c":1689.7},
{"t":"2026-06-08T00:00","o":1689.7,"h":1711,"l":1644.2,"c":1680.6},
{"t":"2026-06-08T12:00","o":1680.6,"h":1712.5,"l":1667,"c":1689.7},
{"t":"2026-06-09T00:00","o":1689.7,"h":1695.8,"l":1653.3,"c":1668.5},
{"t":"2026-06-09T12:00","o":1670,"h":1682.2,"l":1612.4,"c":1636.6},
{"t":"2026-06-10T00:00","o":1638.2,"h":1645.7,"l":1604.8,"c":1616.9},
{"t":"2026-06-10T12:00","o":1618.4,"h":1667,"l":1601.7,"c":1621.5},
{"t":"2026-06-11T00:00","o":1618.4,"h":1671.5,"l":1618,"c":1665.5},
{"t":"2026-06-11T12:00","o":1664,"h":1692.8,"l":1632.1,"c":1671.5},
{"t":"2026-06-12T00:00","o":1671.5,"h":1683.7,"l":1650.3,"c":1674.6},
{"t":"2026-06-12T12:00","o":1673,"h":1689.7,"l":1651.8,"c":1664},
{"t":"2026-06-13T00:00","o":1664,"h":1679.1,"l":1661,"c":1677.6},
{"t":"2026-06-13T12:00","o":1679.1,"h":1695.8,"l":1670,"c":1682.2},
{"t":"2026-06-14T00:00","o":1680.6,"h":1689.7,"l":1668.5,"c":1671.5},
{"t":"2026-06-14T12:00","o":1671.5,"h":1730.7,"l":1653.3,"c":1724.6},
{"t":"2026-06-15T00:00","o":1723.1,"h":1767.1,"l":1708,"c":1764.1},
{"t":"2026-06-15T12:00","o":1762.6,"h":1847.6,"l":1759.5,"c":1794.4},
{"t":"2026-06-16T00:00","o":1794.4,"h":1806.6,"l":1756.5,"c":1797.5},
{"t":"2026-06-16T12:00","o":1797.5,"h":1838.5,"l":1762.6,"c":1789.9},
{"t":"2026-06-17T00:00","o":1791.4,"h":1808.1,"l":1758,"c":1761},
{"t":"2026-06-17T12:00","o":1762.6,"h":1770.2,"l":1741.3,"c":1757.28}
]}}
